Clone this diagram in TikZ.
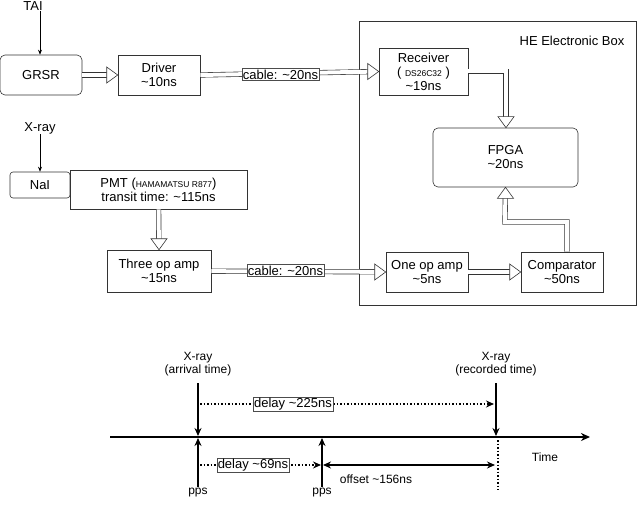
\documentclass[tikz,border=0pt]{standalone}
\usepackage{fontspec}
\setmainfont{Liberation Sans}
\usetikzlibrary{arrows.meta}
\begin{document}
\begin{tikzpicture}[x=1pt,y=-1pt,
  blk/.style={draw=black!80,line width=0.6pt,minimum width=#1,align=center,inner sep=1pt,fill=white,font=\fontsize{13}{14}\selectfont},
  rblk/.style={blk=#1,rounded corners=5pt},
  lbl/.style={draw=black!70,line width=0.5pt,fill=white,inner sep=1pt,font=\fontsize{13}{14}\selectfont},
  txt/.style={align=center,font=\fontsize{12}{13}\selectfont,inner sep=0pt},
  big/.style={draw=black!80,double=white,double distance=4pt,line width=0.6pt,shorten >=10pt},
  hs/.style={draw=black!80,line width=0.6pt,fill=white},
  thin/.style={draw=black,line width=0.6pt,-{Stealth[length=5pt,width=4pt]}},
  tl/.style={draw=black,line width=1.5pt},
  dot/.style={draw=black,line width=1.5pt,dotted},
  tip/.style={-{Stealth[length=8pt,width=7pt]}}]
\useasboundingbox (0,0) rectangle (638,511);
% electronic box
\draw[black!80,line width=0.6pt] (359,21) rectangle (636,305);
\node[txt,font=\fontsize{13}{14}\selectfont] (he) at (572,41) {HE Electronic Box};
% top row
\node[txt,font=\fontsize{13}{14}\selectfont] (tai) at (33,6) {TAI};
\node[rblk=82pt,minimum height=40pt] (grsr) at (41,75) {GRSR};
\node[blk=82pt,minimum height=40pt] (drv) at (159,75) {Driver\\\textasciitilde10ns};
\node[blk=89pt,minimum height=47pt] (rcv) at (423.5,71.5) {Receiver\\( {\fontsize{8.5}{9}\selectfont DS26C32} )\\\textasciitilde19ns};
\node[rblk=145pt,minimum height=59pt] (fpga) at (505.5,157.5) {FPGA\\\textasciitilde20ns};
\draw[thin] (tai.south -| 40,0) -- (grsr.north -| 40,0);
\draw[big] (grsr) -- (drv);
\draw[hs,shift={(drv.west)}] (0,0) -- (-11,-8) -- (-11,8) -- cycle;
\draw[big] (drv.east) -- (rcv.west);
\draw[hs,shift={(rcv.west)}] (0,0) -- (-11,-8) -- (-11,8) -- cycle;
\node[lbl] (c1) at (280.5,74.5) {cable: \textasciitilde20ns};
\draw[big] (rcv.east) -- (506,71.5) -- (fpga.north -| 506,0);
\draw[hs,shift={(fpga.north -| 506,0)}] (0,0) -- (-8,-11) -- (8,-11) -- cycle;
% lower row
\node[txt,font=\fontsize{13}{14}\selectfont] (xr) at (40,128) {X-ray};
\node[rblk=60pt,minimum height=26pt,rounded corners=3pt] (nai) at (40,185) {NaI};
\node[blk=177pt,minimum height=39pt] (pmt) at (158.5,189.5) {PMT ({\fontsize{8.5}{9}\selectfont HAMAMATSU R877})\\transit time: \textasciitilde115ns};
\node[blk=104pt,minimum height=42pt] (toa) at (159,271) {Three op amp\\\textasciitilde15ns};
\node[blk=82pt,minimum height=40pt] (ooa) at (427,272) {One op amp\\\textasciitilde5ns};
\node[blk=82pt,minimum height=40pt] (cmp) at (562,272) {Comparator\\\textasciitilde50ns};
\draw[thin] (xr) -- (nai);
\draw[big] (pmt) -- (toa);
\draw[hs,shift={(toa.north)}] (0,0) -- (-8,-11) -- (8,-11) -- cycle;
\draw[big] (toa) -- (ooa);
\draw[hs,shift={(ooa.west)}] (0,0) -- (-11,-8) -- (-11,8) -- cycle;
\node[lbl] (c2) at (285.5,270.5) {cable: \textasciitilde20ns};
\draw[big] (ooa) -- (cmp);
\draw[hs,shift={(cmp.west)}] (0,0) -- (-11,-8) -- (-11,8) -- cycle;
\draw[big] (cmp.north -| 567,0) -- (567,222) -- (505,222) -- (fpga.south);
\draw[hs,shift={(fpga.south)}] (0,0) -- (-8,11) -- (8,11) -- cycle;
% timeline
\coordinate (t0) at (110,437);
\coordinate (t1) at (590,437);
\draw[tl,-{Stealth[length=9pt,width=8pt]}] (t0) -- (t1);
\node[txt] (time) at (545,457) {Time};
\node[txt] (xa) at (198,364) {X-ray\\(arrival time)};
\node[txt] (xrec) at (496,364) {X-ray\\(recorded time)};
\coordinate (a0) at (198,383); \coordinate (a1) at (198,436);
\coordinate (r0) at (496,383); \coordinate (r1) at (496,436);
\draw[tl,tip] (a0) -- (a1);
\draw[tl,tip] (r0) -- (r1);
\node[txt] (p1) at (198,493) {pps};
\node[txt] (p2) at (322,493) {pps};
\coordinate (pa) at (198,487); \coordinate (pb) at (322,487);
\draw[tl,tip] (pa) -- (198,438);
\draw[tl,tip] (pb) -- (322,438);
\coordinate (d0) at (498,440); \coordinate (d1) at (498,490);
\draw[dot] (d0) -- (d1);
\coordinate (e0) at (200,404); \coordinate (e1) at (494,404);
\draw[dot,tip] (e0) -- (e1);
\node[lbl] (dl1) at (293,404) {delay \textasciitilde225ns};
\coordinate (f0) at (200,465); \coordinate (f1) at (321,465);
\draw[dot,tip] (f0) -- (f1);
\node[lbl] (dl2) at (253,465) {delay \textasciitilde69ns};
\coordinate (g0) at (323,465); \coordinate (g1) at (495,465);
\draw[tl,{Stealth[length=8pt,width=7pt]}-{Stealth[length=8pt,width=7pt]}] (g0) -- (g1);
\node[txt] (off) at (376,479) {offset \textasciitilde156ns};
\end{tikzpicture}
\end{document}
